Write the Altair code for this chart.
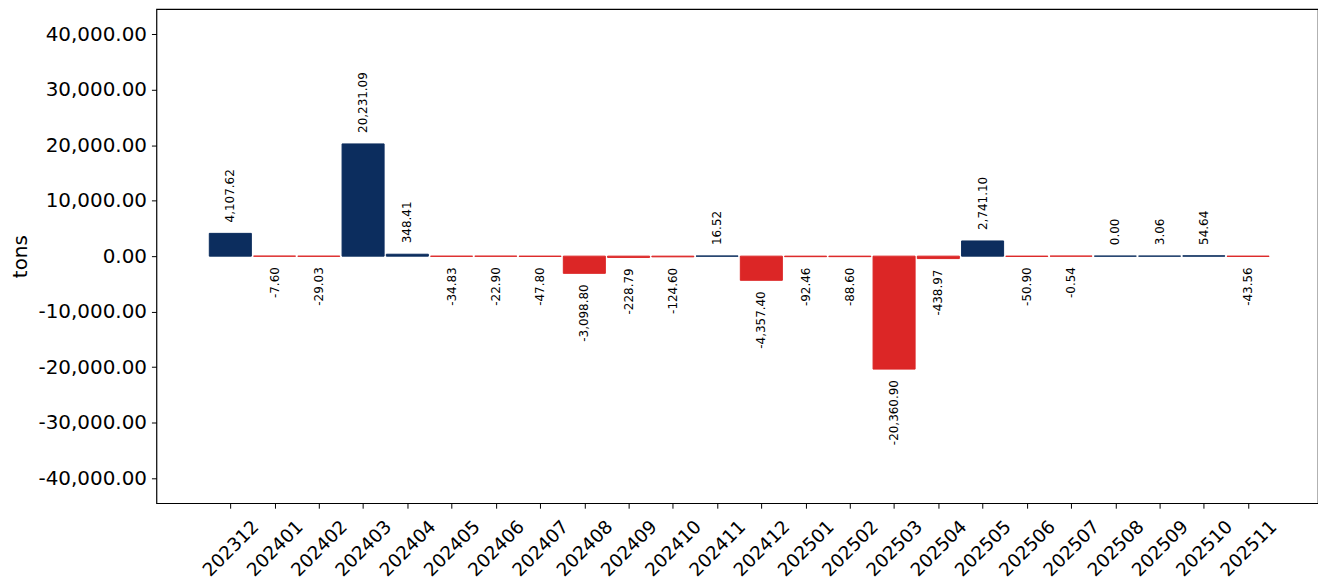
import altair as alt
import pandas as pd

months = ["202312", "202401", "202402", "202403", "202404", "202405", "202406",
          "202407", "202408", "202409", "202410", "202411", "202412", "202501",
          "202502", "202503", "202504", "202505", "202506", "202507", "202508",
          "202509", "202510", "202511"]
values = [4107.62, -7.60, -29.03, 20231.09, 348.41, -34.83, -22.90, -47.80,
          -3098.80, -228.79, -124.60, 16.52, -4357.40, -92.46, -88.60,
          -20360.90, -438.97, 2741.10, -50.90, -0.54, 0.00, 3.06, 54.64, -43.56]

NAVY = "#0c2d5e"
RED = "#dc2626"

df = pd.DataFrame({"idx": list(range(len(months))), "month": months, "value": values})

label_arr = "[" + ",".join(f"'{m}'" for m in months) + "]"

xscale = alt.Scale(domain=[-1.67, 24.58], nice=False, zero=False)
yscale = alt.Scale(domain=[-44530, 44530], nice=False, zero=False)

base = alt.Chart(df).transform_calculate(
    x0="datum.idx - 0.475",
    x1="datum.idx + 0.475",
    zero="0",
    lbl="replace(format(datum.value, ',.2f'), '\u2212', '-')",
)

xaxis = alt.Axis(
    values=list(range(len(months))),
    labelExpr=f"{label_arr}[datum.value]",
    labelAngle=-45, labelAlign="center", labelBaseline="middle",
    labelPadding=40, labelFontSize=18.5, labelFont="DejaVu Sans", labelColor="black",
    labelOverlap=False, labelFlush=False, labelBound=False,
    tickSize=5, tickColor="black", domain=False, grid=False, title=None,
)
yaxis = alt.Axis(
    values=[-40000, -30000, -20000, -10000, 0, 10000, 20000, 30000, 40000],
    labelExpr="replace(format(datum.value, ',.2f'), '\u2212', '-')",
    labelFontSize=20, labelFont="DejaVu Sans", labelColor="black", labelPadding=5,
    tickSize=5, tickColor="black", domain=False, grid=False,
    title="tons", titleFontSize=20, titleFont="DejaVu Sans", titleFontWeight="normal",
    titleColor="black", titleX=-136, titleY=248, titleAngle=270,
    titleAlign="center", titleBaseline="middle",
)

color_cond = alt.condition("datum.value >= 0", alt.value(NAVY), alt.value(RED))

bars = base.mark_rect(strokeWidth=1).encode(
    x=alt.X("x0:Q", scale=xscale, axis=xaxis),
    x2="x1:Q",
    y=alt.Y("value:Q", scale=yscale, axis=yaxis),
    y2="zero:Q",
    color=color_cond,
    stroke=color_cond,
)

pos_lbl = base.transform_filter("datum.value >= 0").mark_text(
    angle=270, align="left", baseline="middle", dx=11,
    fontSize=12, font="DejaVu Sans", color="black",
).encode(
    x=alt.X("idx:Q", scale=xscale),
    y=alt.Y("value:Q", scale=yscale),
    text="lbl:N",
)

neg_lbl = base.transform_filter("datum.value < 0").mark_text(
    angle=270, align="right", baseline="middle", dx=-11,
    fontSize=12, font="DejaVu Sans", color="black",
).encode(
    x=alt.X("idx:Q", scale=xscale),
    y=alt.Y("value:Q", scale=yscale),
    text="lbl:N",
)

chart = alt.layer(bars, pos_lbl, neg_lbl).properties(
    width=1166, height=496,
    padding={"left": 149, "top": 0, "right": 0, "bottom": 80},
    autosize=alt.AutoSizeParams(type="none"),
    background="white",
).configure_view(stroke="black", strokeWidth=1.2)

chart.save("out.html", embed_options={"renderer": "svg", "actions": False})
